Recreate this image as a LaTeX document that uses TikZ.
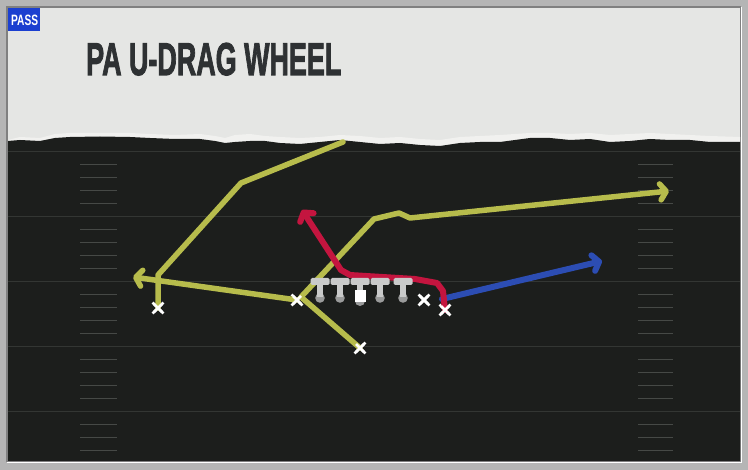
\documentclass[tikz,border=0pt]{standalone}
\usepackage{fontspec}
\setmainfont{Liberation Sans}
\newfontfamily\titlefont[FakeBold=2.5]{Liberation Sans}
\usetikzlibrary{arrows.meta,shapes.misc}
\definecolor{fieldbg}{HTML}{1C1E1C}
\definecolor{paper}{HTML}{E5E6E4}
\definecolor{tornw}{HTML}{F1F1EF}
\definecolor{routey}{HTML}{B7BC4C}
\definecolor{router}{HTML}{C4153F}
\definecolor{routeb}{HTML}{2C4DB3}
\definecolor{passblue}{HTML}{1B3FD0}
\definecolor{framegray}{HTML}{B5B5B5}
\definecolor{framedark}{HTML}{808080}
\definecolor{yardline}{HTML}{333633}
\definecolor{hashc}{HTML}{464946}
\definecolor{titlec}{HTML}{2E3133}
\definecolor{linemanc}{HTML}{C9CACA}
\definecolor{linemandot}{HTML}{9A9B9B}
\tikzset{
  route/.style={line width=5.5pt, line join=round, line cap=round},
  yr/.style={route, draw=routey},
  rr/.style={route, draw=router, line width=6pt},
  br/.style={route, draw=routeb, line width=6pt},
  tip/.style={-{Straight Barb[length=6pt,width=16pt,line cap=round,line join=round]}},
  xmark/.style={cross out, draw=white, line width=2.8pt, minimum size=8pt, inner sep=0pt},
  yardl/.style={draw=yardline, line width=1pt},
  hashl/.style={draw=hashc, line width=1pt},
  lineman/.pic={
    \fill[linemandot] (0,20) circle (4.8);
    \fill[linemanc] (-2.7,4) rectangle (2.7,19);
    \fill[linemanc, rounded corners=1.5pt] (-9.5,0) rectangle (9.5,7);
  }
}
\begin{document}
\begin{tikzpicture}[x=1pt,y=-1pt]
\useasboundingbox (0,0) rectangle (748,470);
% frame
\fill[framegray] (0,0) rectangle (748,470);
\fill[white] (7,7) rectangle (742,463);
\fill[framedark] (6,6) rectangle (741,462);
% paper
\fill[paper] (8,8) rectangle (740,160);
% torn white band
\fill[tornw] (8,140) -- (20,137) -- (40,138) -- (55,134) -- (70,133) -- (100,133) -- (130,133) -- (150,134)
  -- (175,135) -- (200,134) -- (215,136) -- (225,138) -- (235,135) -- (250,134) -- (265,136) -- (280,137)
  -- (300,138) -- (320,137) -- (340,135) -- (360,136) -- (380,138) -- (400,137) -- (420,139) -- (440,140)
  -- (460,137) -- (480,136) -- (500,135) -- (515,134) -- (530,133) -- (550,133) -- (570,134) -- (590,133)
  -- (610,135) -- (630,134) -- (650,133) -- (670,134) -- (690,135) -- (710,136) -- (740,137) -- (740,150) -- (8,150) -- cycle;
% field
\fill[fieldbg] (8,141) -- (20,140) -- (40,141) -- (55,138) -- (70,137) -- (100,136.5) -- (130,137) -- (150,138)
  -- (175,139) -- (200,139) -- (215,141) -- (225,143) -- (235,142) -- (250,141) -- (265,141) -- (280,143)
  -- (300,144) -- (320,142) -- (340,140) -- (360,142) -- (380,144) -- (400,143) -- (420,145) -- (440,146)
  -- (460,143) -- (480,142) -- (500,142) -- (515,140) -- (530,138) -- (550,138) -- (570,140) -- (590,139)
  -- (610,142) -- (630,141) -- (650,139) -- (670,140) -- (690,140) -- (710,142) -- (740,142)
  -- (740,461) -- (8,461) -- cycle;
% yard lines
\foreach \yy in {152,217,282,347,412} {\draw[yardl] (8,\yy) -- (740,\yy);}
% hash marks
\foreach \yy in {165,178,191,204,230,243,256,269,295,308,321,334,360,373,386,399,425,438,451} {
  \draw[hashl] (80,\yy) -- (117,\yy);
  \draw[hashl] (638,\yy) -- (673,\yy);
}
% PASS tag
\fill[passblue] (8,8) rectangle (40,31);
\node[anchor=base west, inner sep=0, text=white] (passlbl) at (11,26)
  {\bfseries\fontsize{15}{15}\selectfont\scalebox{0.68}[1]{PASS}};
% title
\node[anchor=base west, inner sep=0, text=titlec] (title) at (86,75)
  {\titlefont\bfseries\fontsize{46}{46}\selectfont\scalebox{0.585}[1]{PA U-DRAG WHEEL}};
% players (X marks)
\node[xmark] (x1) at (158,308) {};
\node[xmark] (x2) at (297,300) {};
\node[xmark] (x3) at (360,348) {};
\node[xmark] (x4) at (424,300) {};
\node[xmark] (x5) at (445,310) {};
\coordinate (bstart) at (442,299);
% routes
\draw[yr] (x1.center) -- (158,275) -- (241,183) -- (343,142);
\draw[yr, tip] (x2.center) -- (133,277);
\draw[yr, tip] (x3.center) -- (301,297) -- (374,219) -- (399,213) -- (410,218) -- (669,191);
\draw[br, tip] (bstart) -- (602,261);
\draw[rr, tip] (x5.center) -- (443,291) -- (437,283) -- (415,279) -- (350,275) -- (341,270) -- (302,210);
% offensive line
\foreach \xx in {320,340,380,403} {\pic at (\xx,278) {lineman};}
\fill[linemanc, rounded corners=1.5pt] (350.5,278) rectangle (369.5,285);
\fill[linemanc] (357.3,282) rectangle (362.7,293);
\fill[linemandot] (360,301) circle (5);
\fill[white] (354.5,290) rectangle (366,302);
% redraw X marks on top
\foreach \n in {x1,x2,x3,x4,x5} {\draw[white, line width=2.8pt] ([shift={(-4,-4)}]\n.center) -- ([shift={(4,4)}]\n.center) ([shift={(-4,4)}]\n.center) -- ([shift={(4,-4)}]\n.center);}
\end{tikzpicture}
\end{document}
